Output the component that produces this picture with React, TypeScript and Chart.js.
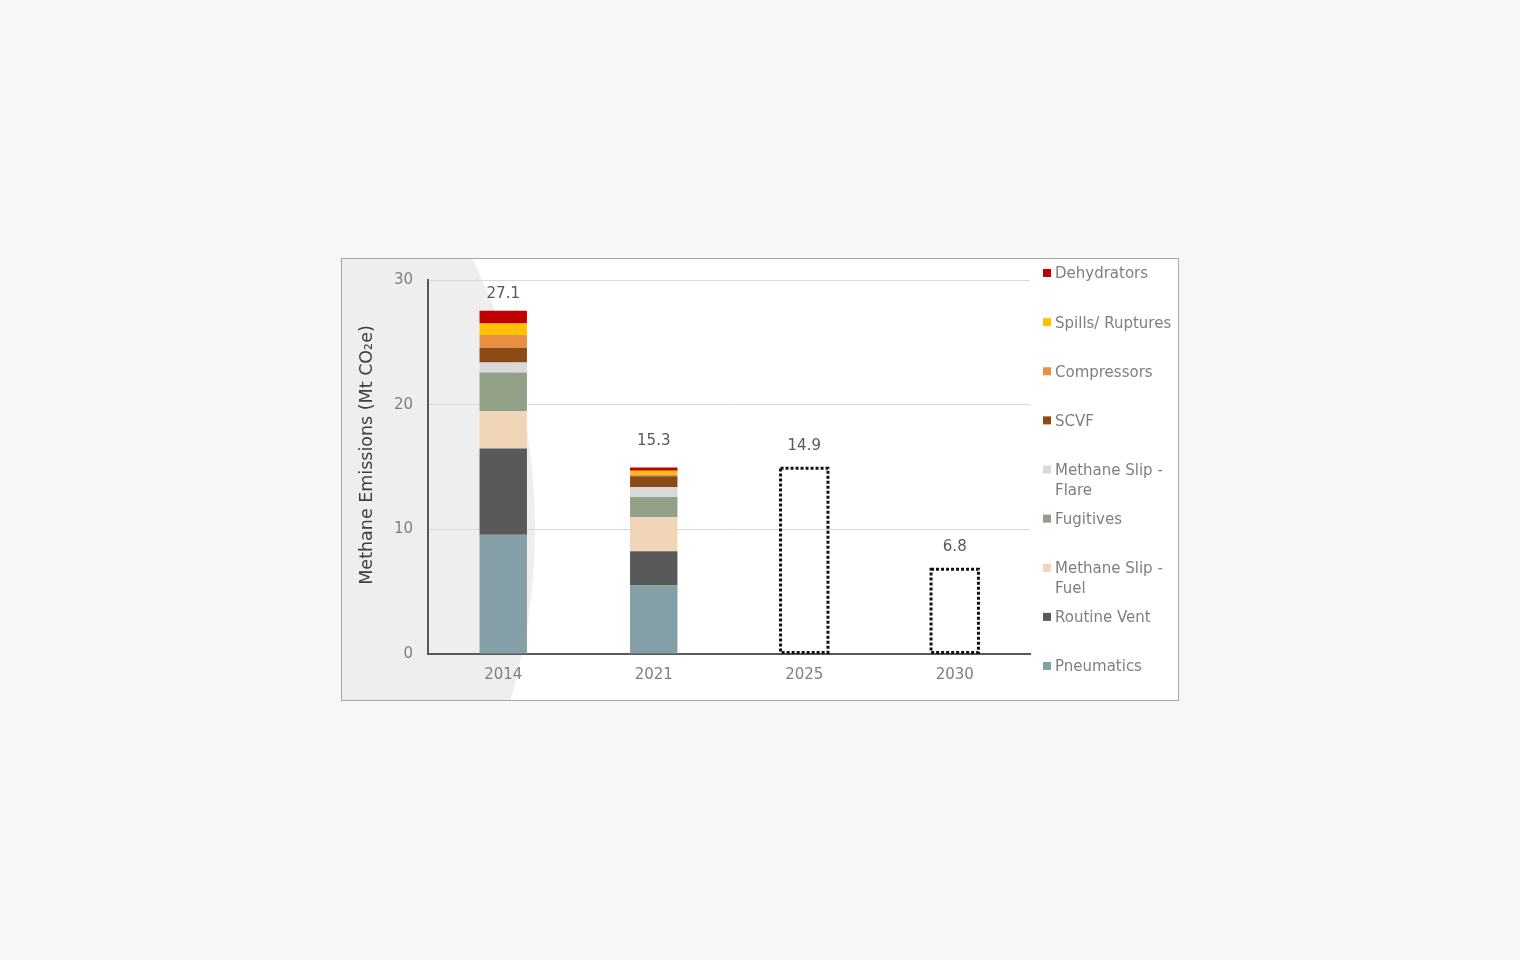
import React, { useEffect, useRef } from "react";
import { Chart, registerables } from "chart.js";

Chart.register(...registerables);

// ---- data ----
const years = ["2014", "2021", "2025", "2030"];
const pneumatics = [9.57, 5.49, null, null];
const routineVent = [6.91, 2.76, null, null];
const slipFuel = [3.0, 2.73, null, null];
const fugitives = [3.11, 1.61, null, null];
const slipFlare = [0.8, 0.8, null, null];
const scvf = [1.17, 0.86, null, null];
const compressors = [1.02, 0.15, null, null];
const spills = [0.94, 0.3, null, null];
const dehydrators = [1.01, 0.25, null, null];
const targets = [null, null, 14.9, 6.8];
const totalLabels = ["27.1", "15.3", "14.9", "6.8"];
const totalValues = [27.1, 15.3, 14.9, 6.8];
const yTicks = [0, 10, 20, 30];
const yTitle = "Methane Emissions (Mt CO\u2082e)";

const seriesNames = [
  "Pneumatics",
  "Routine Vent",
  "Methane Slip - Fuel",
  "Fugitives",
  "Methane Slip - Flare",
  "SCVF",
  "Compressors",
  "Spills/ Ruptures",
  "Dehydrators",
];
const legendLines = [
  ["Pneumatics"],
  ["Routine Vent"],
  ["Methane Slip -", "Fuel"],
  ["Fugitives"],
  ["Methane Slip -", "Flare"],
  ["SCVF"],
  ["Compressors"],
  ["Spills/ Ruptures"],
  ["Dehydrators"],
];
const seriesValues = [
  pneumatics,
  routineVent,
  slipFuel,
  fugitives,
  slipFlare,
  scvf,
  compressors,
  spills,
  dehydrators,
];
const seriesColors = [
  "#84a0a6",
  "#595959",
  "#f0d5b8",
  "#91a087",
  "#d9d9d9",
  "#8c4a14",
  "#ea8f46",
  "#ffc000",
  "#c00000",
];

const FONT = "'DejaVu Sans', sans-serif";

export default function App() {
  const ref = useRef<HTMLCanvasElement | null>(null);

  useEffect(() => {
    document.body.style.background = "#f7f7f7";
    const canvas = ref.current;
    if (!canvas) return;

    const bgPlugin = {
      id: "bgShape",
      beforeDraw(chart: any) {
        const { ctx, width, height } = chart;
        ctx.save();
        ctx.fillStyle = "#ffffff";
        ctx.fillRect(0, 0, width, height);
        ctx.beginPath();
        ctx.rect(0, 0, width, height);
        ctx.clip();
        ctx.beginPath();
        ctx.arc(-420, 270, 613, 0, Math.PI * 2);
        ctx.fillStyle = "#eeeeee";
        ctx.fill();
        ctx.restore();
      },
    };

    const targetIndex = seriesNames.length;

    const overlayPlugin = {
      id: "overlay",
      afterDatasetsDraw(chart: any) {
        const { ctx, chartArea } = chart;
        const xs = chart.scales.x;
        const ys = chart.scales.y;
        // dotted target bars
        const meta = chart.getDatasetMeta(targetIndex);
        ctx.save();
        ctx.strokeStyle = "#111111";
        ctx.lineWidth = 3;
        ctx.setLineDash([3, 2]);
        meta.data.forEach((el: any, i: number) => {
          if (targets[i] == null) return;
          const p = el.getProps(["x", "y", "base", "width"], true);
          ctx.strokeRect(p.x - p.width / 2, p.y, p.width, p.base - p.y - 1);
        });
        ctx.restore();

        // total labels
        ctx.save();
        ctx.font = `15px ${FONT}`;
        ctx.fillStyle = "#595959";
        ctx.textAlign = "center";
        ctx.textBaseline = "middle";
        totalLabels.forEach((t, i) => {
          const x = xs.getPixelForValue(i);
          const y = ys.getPixelForValue(totalValues[i]) - 22;
          ctx.fillText(t, x, y);
        });
        ctx.restore();

        // y axis title
        ctx.save();
        ctx.font = `17.5px ${FONT}`;
        ctx.fillStyle = "#404040";
        ctx.textAlign = "center";
        ctx.textBaseline = "middle";
        ctx.translate(25, (chartArea.top + chartArea.bottom) / 2 - 12);
        ctx.rotate(-Math.PI / 2);
        ctx.fillText(yTitle, 0, 0);
        ctx.restore();

        // legend (top item first = last series)
        ctx.save();
        ctx.font = `15px ${FONT}`;
        ctx.textAlign = "left";
        ctx.textBaseline = "middle";
        const n = seriesNames.length;
        const top = chartArea.top - 7;
        const step = (chartArea.bottom - chartArea.top + 19) / (n - 1);
        const bx = chartArea.right + 13;
        for (let k = 0; k < n; k++) {
          const s = n - 1 - k;
          const cy = top + k * step;
          ctx.fillStyle = seriesColors[s];
          ctx.fillRect(bx, cy - 4, 8, 8);
          ctx.fillStyle = "#7f7f7f";
          legendLines[s].forEach((line, li) => {
            ctx.fillText(line, bx + 12, cy + 1.5 + li * 20);
          });
        }
        ctx.restore();
      },
    };

    const datasets: any[] = seriesValues.map((vals, i) => ({
      label: seriesNames[i],
      data: vals,
      backgroundColor: seriesColors[i],
      borderWidth: 0,
      stack: "s",
    }));
    datasets.push({
      label: "Target",
      data: targets,
      backgroundColor: "rgba(0,0,0,0)",
      borderWidth: 0,
      stack: "s",
    });

    const chart = new Chart(canvas, {
      type: "bar",
      data: { labels: years, datasets },
      plugins: [bgPlugin, overlayPlugin],
      options: {
        animation: false,
        responsive: true,
        maintainAspectRatio: false,
        categoryPercentage: 1,
        barPercentage: 0.315,
        layout: {
          autoPadding: false,
          padding: { left: 0, right: 148, top: 21, bottom: 4 },
        },
        plugins: {
          legend: { display: false },
          tooltip: { enabled: false },
        },
        scales: {
          x: {
            stacked: true,
            grid: { display: false, drawTicks: false },
            border: { display: true, color: "#595959", width: 2 },
            ticks: {
              color: "#7f7f7f",
              font: { family: FONT, size: 15 },
              padding: 12,
            },
          },
          y: {
            stacked: true,
            min: 0,
            max: 30,
            afterFit(scale: any) {
              scale.width = 86;
              scale.paddingTop = 0;
              scale.paddingBottom = 0;
            },
            afterBuildTicks(scale: any) {
              scale.ticks = yTicks.map((v) => ({ value: v }));
            },
            grid: { color: "#d9d9d9", lineWidth: 1, drawTicks: false },
            border: { display: true, color: "#595959", width: 2 },
            ticks: {
              color: "#7f7f7f",
              font: { family: FONT, size: 15 },
              padding: 15,
            },
            title: { display: false },
          },
        },
      },
    } as any);

    return () => chart.destroy();
  }, []);

  return (
    <div
      style={{
        position: "absolute",
        left: 341,
        top: 258,
        width: 836,
        height: 441,
        border: "1px solid #a6a6a6",
        background: "#ffffff",
      }}
    >
      <div style={{ position: "relative", width: 836, height: 441 }}>
        <canvas ref={ref} />
      </div>
    </div>
  );
}
